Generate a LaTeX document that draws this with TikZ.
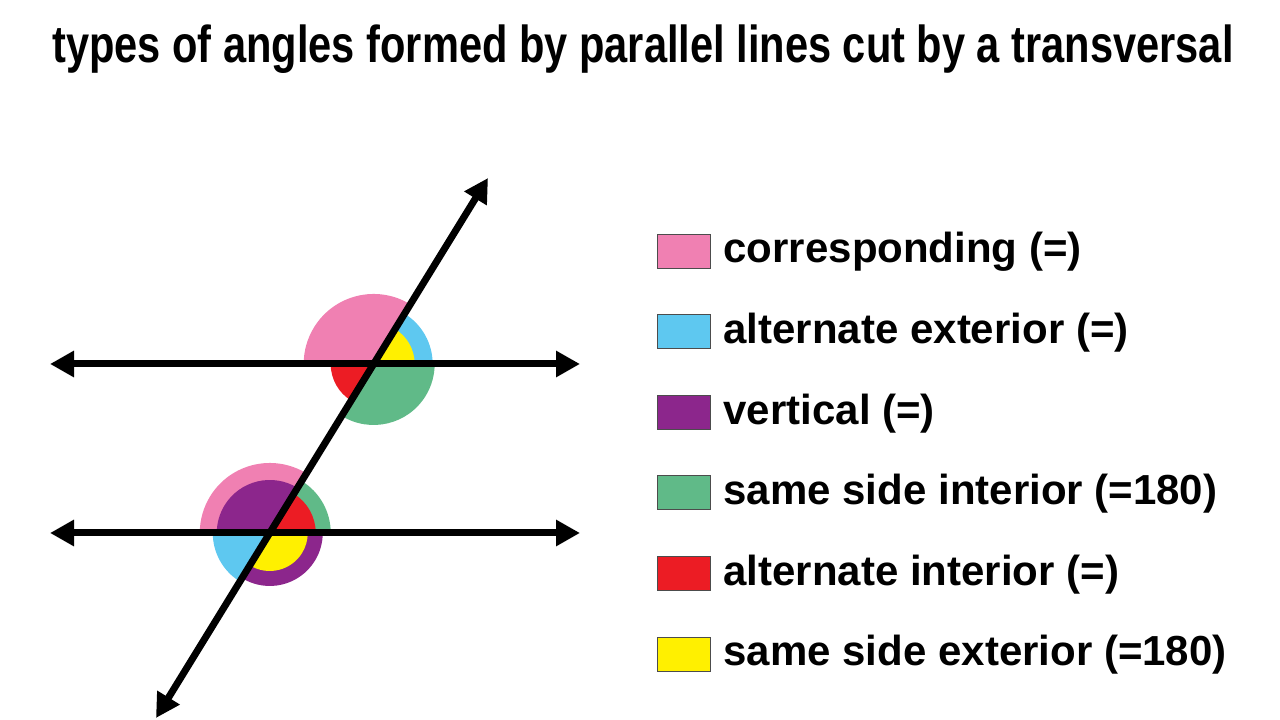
\documentclass[tikz,border=0pt]{standalone}
\usepackage{fontspec}
\setmainfont{Liberation Sans}
\usepackage{graphicx}
\usetikzlibrary{arrows.meta,positioning}
\definecolor{angpink}{RGB}{240,128,178}
\definecolor{angblue}{RGB}{94,200,240}
\definecolor{angpurple}{RGB}{140,38,140}
\definecolor{anggreen}{RGB}{96,186,136}
\definecolor{angred}{RGB}{236,28,36}
\definecolor{angyellow}{RGB}{255,240,0}
\tikzset{
  bigarrow/.style={line width=7pt,{Triangle[length=24pt,width=25pt]}-{Triangle[length=24pt,width=25pt]}},
  swatch/.style={draw=black!70,line width=0.8pt,minimum width=53pt,minimum height=34pt,inner sep=0pt},
  legtext/.style={font=\bfseries\fontsize{42}{48}\selectfont,inner sep=0pt,anchor=base west},
}
\begin{document}
\begin{tikzpicture}[x=1pt,y=1pt]
        \useasboundingbox (0,0) rectangle (1280,720);
        \node[font=\bfseries\fontsize{52}{60}\selectfont,anchor=base,inner sep=0pt] (title) at (643,657)
             {\scalebox{0.8}[1]{types of angles formed by parallel lines cut by a transversal}};
        % lines
        \coordinate (la) at (50,356); \coordinate (ra) at (580,356);
        \coordinate (lb) at (50,187); \coordinate (rb) at (580,187);
        \coordinate (tb) at (156,2);  \coordinate (tt) at (488,542);
        \coordinate (P) at (intersection of la--ra and tb--tt);
        \coordinate (Q) at (intersection of lb--rb and tb--tt);
        \def\th{58.4}
        % upper crossing
        \fill[angpink] (P) -- ++(\th:70) arc (\th:180:70) -- cycle;
        \fill[angblue] (P) -- ++(0:59) arc (0:\th:59) -- cycle;
        \fill[angyellow] (P) -- ++(0:41) arc (0:\th:41) -- cycle;
        \fill[angred] (P) -- ++(180:43) arc (180:180+\th:43) -- cycle;
        \fill[anggreen] (P) -- ++(180+\th:61) arc (180+\th:360:61) -- cycle;
        % lower crossing
        \fill[angpink] (Q) -- ++(\th:70) arc (\th:180:70) -- cycle;
        \fill[angpurple] (Q) -- ++(\th:53) arc (\th:180:53) -- cycle;
        \fill[anggreen] (Q) -- ++(0:61) arc (0:\th:61) -- cycle;
        \fill[angred] (Q) -- ++(0:46) arc (0:\th:46) -- cycle;
        \fill[angblue] (Q) -- ++(180:57) arc (180:180+\th:57) -- cycle;
        \fill[angpurple] (Q) -- ++(180+\th:53) arc (180+\th:360:53) -- cycle;
        \fill[angyellow] (Q) -- ++(180+\th:38) arc (180+\th:360:38) -- cycle;
        \draw[bigarrow] (la) -- (ra);
        \draw[bigarrow] (lb) -- (rb);
        \draw[bigarrow] (tb) -- (tt);
        % legend
        \node[swatch,fill=angpink]   (s1) at (683.5,469) {};
        \node[swatch,fill=angblue]   (s2) [below=45.8pt of s1] {};
        \node[swatch,fill=angpurple] (s3) [below=45.8pt of s2] {};
        \node[swatch,fill=anggreen]  (s4) [below=45.8pt of s3] {};
        \node[swatch,fill=angred]    (s5) [below=45.8pt of s4] {};
        \node[swatch,fill=angyellow] (s6) [below=45.8pt of s5] {};
        \node[legtext] (t1) at ([xshift=13pt,yshift=-12pt]s1.east) {corresponding (=)};
        \node[legtext] (t2) at ([xshift=13pt,yshift=-12pt]s2.east) {alternate exterior (=)};
        \node[legtext] (t3) at ([xshift=13pt,yshift=-12pt]s3.east) {vertical (=)};
        \node[legtext] (t4) at ([xshift=13pt,yshift=-12pt]s4.east) {same side interior (=180)};
        \node[legtext] (t5) at ([xshift=13pt,yshift=-12pt]s5.east) {alternate interior (=)};
        \node[legtext] (t6) at ([xshift=13pt,yshift=-12pt]s6.east) {same side exterior (=180)};
\end{tikzpicture}
\end{document}
